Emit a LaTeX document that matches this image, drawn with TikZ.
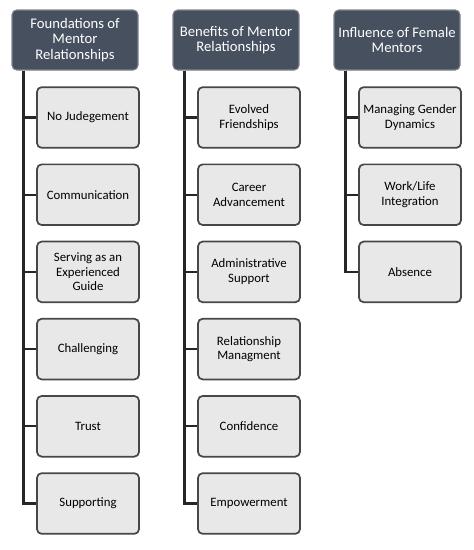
\documentclass[tikz,border=0pt]{standalone}
\usepackage{fontspec}
\setmainfont{Carlito}
\usetikzlibrary{positioning}
\definecolor{headfill}{HTML}{46505F}
\definecolor{itemfill}{HTML}{E8E8E8}
\definecolor{itemline}{HTML}{474747}
\tikzset{
  head/.style={draw=headfill!70!white, line width=0.8pt, fill=headfill, text=white, rounded corners=3.5pt,
    minimum width=94.5pt, minimum height=45pt, align=center, inner sep=1pt,
    font=\fontsize{11}{11.8}\selectfont},
  item/.style={draw=itemline, line width=1.3pt, fill=itemfill, rounded corners=3.5pt,
    minimum width=76.5pt, minimum height=45.5pt, align=center, inner sep=1pt,
    font=\fontsize{9.6}{11}\selectfont},
  link/.style={draw=black!85, line width=1.6pt}
}
\begin{document}
\begin{tikzpicture}[x=0.75pt,y=-0.75pt]
	\useasboundingbox (0,0) rectangle (474,550);
	\node[head] (h1) at (75,40) {Foundations of\\Mentor\\Relationships};
	\node[head] (h2) at (236,40) {Benefits of Mentor\\Relationships};
	\node[head] (h3) at (397,40) {Influence of Female\\Mentors};
	% column 1
	\foreach \txt [count=\i] in {No Judegement, Communication, {Serving as an\\Experienced\\Guide}, Challenging, Trust, Supporting}
		\node[item] (f\i) at (88,117.5+77.2*\i-77.2) {\txt};
	% column 2
	\foreach \txt [count=\i] in {{Evolved\\Friendships}, {Career\\Advancement}, {Administrative\\Support}, {Relationship\\Managment}, Confidence, Empowerment}
		\node[item] (b\i) at (249,117.5+77.2*\i-77.2) {\txt};
	% column 3
	\foreach \txt [count=\i] in {{Managing Gender\\Dynamics}, {Work/Life\\Integration}, Absence}
		\node[item] (m\i) at (410,117.5+77.2*\i-77.2) {\txt};
	% connectors
	\coordinate (t1) at ([xshift=9pt]h1.south west);
	\coordinate (t2) at ([xshift=9pt]h2.south west);
	\coordinate (t3) at ([xshift=9pt]h3.south west);
	\draw[link] (t1) |- (f6.west);
	\draw[link] (t2) |- (b6.west);
	\draw[link] (t3) |- (m3.west);
	\foreach \i in {1,...,5} {
		\draw[link] (f\i.west) -- (f\i.west -| t1);
		\draw[link] (b\i.west) -- (b\i.west -| t2);
	}
	\foreach \i in {1,2}
		\draw[link] (m\i.west) -- (m\i.west -| t3);
\end{tikzpicture}
\end{document}
